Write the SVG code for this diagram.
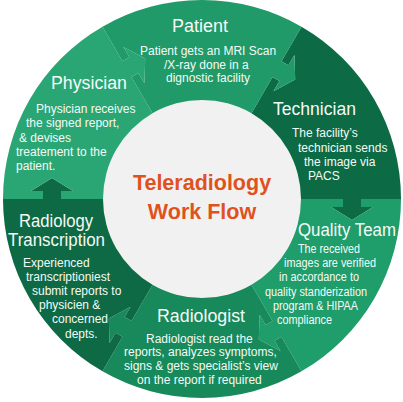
<svg xmlns="http://www.w3.org/2000/svg" xmlns:xlink="http://www.w3.org/1999/xlink" width="403" height="402" viewBox="0 0 403 402">
<style>
.t{font-family:"Liberation Sans",Arial,sans-serif;fill:#f4fbf7;}
.h{font-size:17.5px;}
.b{font-size:12px;}
.main{font-family:"Liberation Sans",Arial,sans-serif;font-weight:bold;font-size:21.5px;fill:#e0521c;text-anchor:middle;}
</style>
<defs>
<path id="seg" d="M99.5,-172.34 A199,199 0 0 1 199,0 L159,0 L159,8 L171,8 L150,21 L129,8 L141,8 L141,0 L99,0 A99,99 0 0 0 49.5,-85.74 L70.5,-122.11 L77.43,-118.11 L71.43,-107.72 L93.19,-119.4 L92.43,-144.09 L86.43,-133.7 L79.5,-137.7 Z"/>
</defs>
<rect width="403" height="402" fill="#ffffff"/>
<circle cx="202" cy="199" r="100" fill="#f1f1f1"/>
<g id="connectors"></g>
<g id="technician">
<use xlink:href="#seg" transform="translate(202 199) rotate(0)" fill="#0c6a45"/>
<text class="t h" x="273" y="115" textLength="83" lengthAdjust="spacingAndGlyphs">Technician</text>
<text class="t b" x="292" y="137">The facility’s</text>
<text class="t b" x="298" y="151.5">technician sends</text>
<text class="t b" x="304" y="165.5">the image via</text>
<text class="t b" x="308" y="180">PACS</text>
</g>
<g id="quality-team">
<use xlink:href="#seg" transform="translate(202 199) rotate(60)" fill="#1f9d6b"/>
<text class="t h" x="298" y="236" textLength="98" lengthAdjust="spacingAndGlyphs">Quality Team</text>
<text class="t b" x="298" y="253" textLength="62" lengthAdjust="spacingAndGlyphs">The received</text>
<text class="t b" x="284" y="267" textLength="92" lengthAdjust="spacingAndGlyphs">images are verified</text>
<text class="t b" x="279" y="281" textLength="80" lengthAdjust="spacingAndGlyphs">in accordance to</text>
<text class="t b" x="265" y="296" textLength="102" lengthAdjust="spacingAndGlyphs">quality standerization</text>
<text class="t b" x="273" y="310" textLength="85" lengthAdjust="spacingAndGlyphs">program &amp; HIPAA</text>
<text class="t b" x="277" y="324" textLength="55" lengthAdjust="spacingAndGlyphs">compliance</text>
</g>
<g id="radiologist">
<use xlink:href="#seg" transform="translate(202 199) rotate(120)" fill="#17895b"/>
<text class="t h" x="157" y="322" textLength="88" lengthAdjust="spacingAndGlyphs">Radiologist</text>
<text class="t b" x="146" y="342.5">Radiologist read the</text>
<text class="t b" x="124" y="356">reports, analyzes symptoms,</text>
<text class="t b" x="124" y="370">signs &amp; gets specialist’s view</text>
<text class="t b" x="137" y="384">on the report if required</text>
</g>
<g id="radiology-transcription">
<use xlink:href="#seg" transform="translate(202 199) rotate(180)" fill="#0e6945"/>
<text class="t h" x="19" y="227" textLength="74" lengthAdjust="spacingAndGlyphs">Radiology</text>
<text class="t h" x="8" y="246" textLength="97" lengthAdjust="spacingAndGlyphs">Transcription</text>
<text class="t b" x="23" y="267">Experienced</text>
<text class="t b" x="26" y="281">transcriptioniest</text>
<text class="t b" x="32" y="295">submit reports to</text>
<text class="t b" x="39" y="309">physicien &amp;</text>
<text class="t b" x="52" y="323">concerned</text>
<text class="t b" x="65" y="338">depts.</text>
</g>
<g id="physician">
<use xlink:href="#seg" transform="translate(202 199) rotate(240)" fill="#29a674"/>
<text class="t h" x="51" y="89" textLength="76" lengthAdjust="spacingAndGlyphs">Physician</text>
<text class="t b" x="36" y="113">Physician receives</text>
<text class="t b" x="26" y="127">the signed report,</text>
<text class="t b" x="19" y="141.5">&amp; devises</text>
<text class="t b" x="16" y="156">treatement to the</text>
<text class="t b" x="16" y="170">patient.</text>
</g>
<g id="patient">
<use xlink:href="#seg" transform="translate(202 199) rotate(300)" fill="#209a69"/>
<text class="t h" x="172" y="32" textLength="56" lengthAdjust="spacingAndGlyphs">Patient</text>
<text class="t b" x="140" y="55">Patient gets an MRI Scan</text>
<text class="t b" x="164" y="69">/X-ray done in a</text>
<text class="t b" x="166" y="82">dignostic facility</text>
</g>
<g id="center-title">
<text class="main" x="202" y="190">Teleradiology</text>
<text class="main" x="202" y="219">Work Flow</text>
</g>
</svg>
